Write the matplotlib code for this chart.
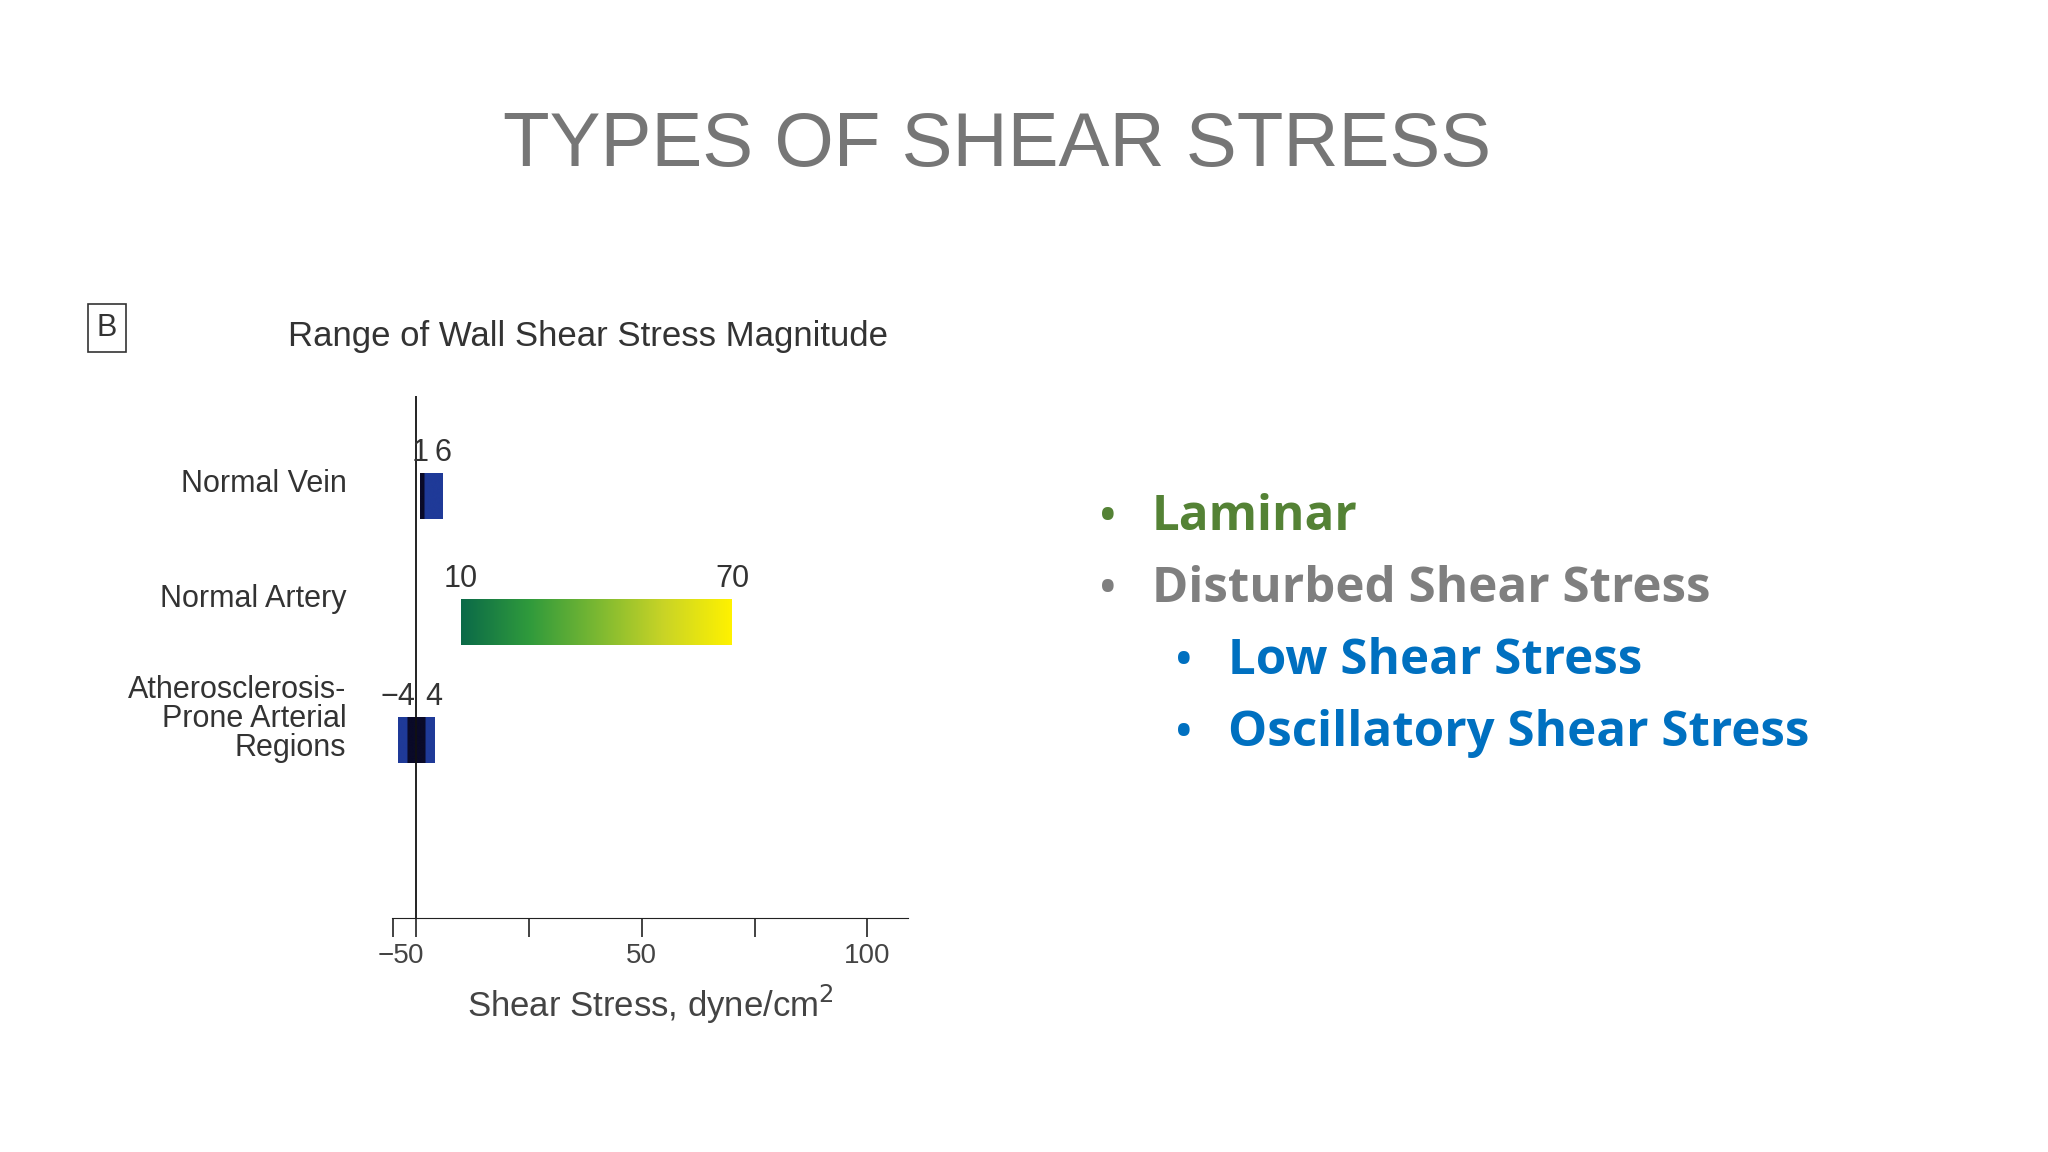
import matplotlib
matplotlib.use("Agg")
import matplotlib.pyplot as plt
import numpy as np
from matplotlib.colors import LinearSegmentedColormap

categories = ["Normal Vein", "Normal Artery", "Atherosclerosis-\nProne Arterial\nRegions"]
range_low = [1, 10, -4]
range_high = [6, 70, 4]
bar_centers = [323.5, 226.5, 136.5]   # vertical positions (axis units)
label_offsets = [9, 18, 16]
xticks = [-5, 0, 25, 50, 75, 100]
xticklabels = ["\u22125", "0", "", "50", "", "100"]
bullets = ["Laminar", "Disturbed Shear Stress", "Low Shear Stress", "Oscillatory Shear Stress"]

fig = plt.figure(figsize=(20.48, 11.52), dpi=100)
fig.patch.set_facecolor("white")

fig.text(0.487, 0.873, "TYPES OF SHEAR STRESS", ha="center", va="center",
         fontsize=55, color="#767676", family="Liberation Sans")

ax = fig.add_axes([0.1914, 0.2031, 0.2520, 0.453])
ax.set_xlim(-5.3, 109)
ax.set_ylim(0, 400)
for s in ["left", "right", "top"]:
    ax.spines[s].set_visible(False)
ax.spines["bottom"].set_color("#222")
ax.axvline(0, color="#111", lw=1.3, zorder=3)
ax.set_yticks([])
ax.set_xticks(xticks)
ax.set_xticklabels(xticklabels, fontsize=20, color="#444", family="Liberation Sans")
ax.tick_params(axis="x", direction="out", length=14, width=1.2, color="#222", pad=4)
ax.set_xlabel("Shear Stress, dyne/cm$^2$", fontsize=25, color="#444",
              family="Liberation Sans", labelpad=10)

h = 35
blue = "#1f3a98"
dark = "#0a0a28"
cm_vein = LinearSegmentedColormap.from_list("v", [(0, dark), (0.19, dark), (0.2, blue), (1, blue)])
cm_ath = LinearSegmentedColormap.from_list("a", [(0, blue), (0.25, blue), (0.26, dark), (0.74, dark), (0.75, blue), (1, blue)])
cm_art = LinearSegmentedColormap.from_list("g", ["#0b6a48", "#2f9a3c", "#7ab832", "#c9d426", "#fff200"])
cmaps = [cm_vein, cm_art, cm_ath]
grad = np.linspace(0, 1, 256)[None, :]
for lo, hi, yc, cm in zip(range_low, range_high, bar_centers, cmaps):
    ax.imshow(grad, cmap=cm, extent=[lo, hi, yc - h / 2, yc + h / 2], aspect="auto", zorder=2)
    ax.text(lo, yc + h / 2 + 4, f"{lo}".replace("-", "\u2212"), ha="center", va="bottom",
            fontsize=22, color="#333", family="Liberation Sans")
    ax.text(hi, yc + h / 2 + 4, f"{hi}", ha="center", va="bottom",
            fontsize=22, color="#333", family="Liberation Sans")
ax.set_xlim(-5.3, 109)
ax.set_ylim(0, 400)

for cat, yc, off in zip(categories, bar_centers, label_offsets):
    ax.text(-15.4, yc + off, cat, ha="right", va="center", fontsize=22,
            color="#333", family="Liberation Sans", linespacing=0.95, clip_on=False)

fig.text(0.287, 0.7075, "Range of Wall Shear Stress Magnitude", ha="center", va="center",
         fontsize=25, color="#333", family="Liberation Sans")
fig.text(0.0523, 0.715, "B", ha="center", va="center", fontsize=22, color="#333",
         family="Liberation Sans",
         bbox=dict(boxstyle="square,pad=0.3", fc="white", ec="#333", lw=1.2))

colors = ["#548235", "#7f7f7f", "#0070c0", "#0070c0"]
xs = [0.5625, 0.5625, 0.5996, 0.5996]
ys = [1 - 518 / 1152, 1 - 590 / 1152, 1 - 662 / 1152, 1 - 734 / 1152]
for t, c, x, y in zip(bullets, colors, xs, ys):
    fig.text(x - 0.0215, y, "\u2022", ha="center", va="center", fontsize=30, color=c,
             family="Open Sans", fontweight="bold")
    fig.text(x, y, t, ha="left", va="center", fontsize=35.5, color=c,
             family="Open Sans", fontweight="bold")

fig.savefig("out.png", dpi=100)
